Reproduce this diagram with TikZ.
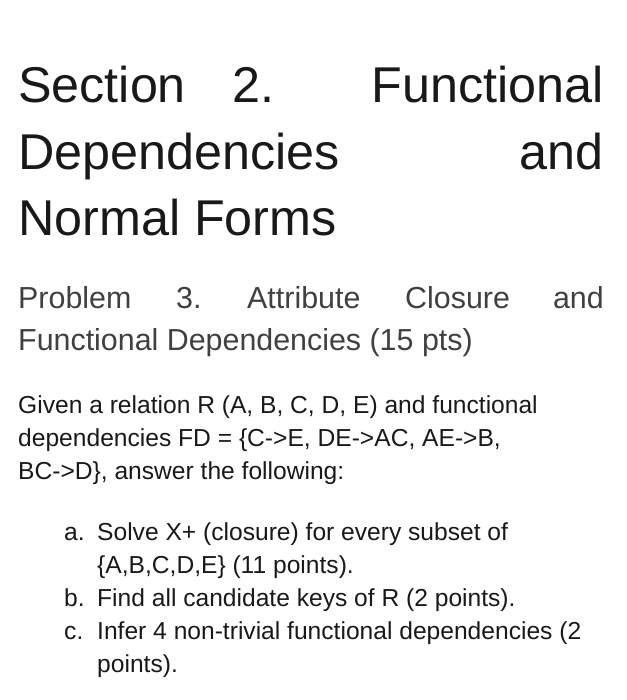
\documentclass[tikz,border=0pt]{standalone}
\usepackage{fontspec}
\setmainfont{Liberation Sans}
\begin{document}
\begin{tikzpicture}[x=1pt,y=-1pt,
  big/.style={font=\fontsize{50.3}{60}\selectfont,inner sep=0pt,text=black!90},
  mid/.style={font=\fontsize{30.4}{34}\selectfont,inner sep=0pt,text=black!75},
  body/.style={font=\fontsize{24.6}{28}\selectfont,inner sep=0pt,text=black!90}]
\useasboundingbox (0,0) rectangle (626,700);
\node[big,anchor=base west] (t1a) at (18,103) {Section};
\node[big,anchor=base west] (t1b) at (232,103) {2.};
\node[big,anchor=base east] (t1c) at (604,103) {Functional};
\node[big,anchor=base west] (t2a) at (18,170) {Dependencies};
\node[big,anchor=base east] (t2b) at (604,170) {and};
\node[big,anchor=base west] (t3a) at (18,236) {Normal Forms};
\node[mid,anchor=base west] (p1a) at (18,308) {Problem};
\node[mid,anchor=base west] (p1b) at (176,308) {3.};
\node[mid,anchor=base west] (p1c) at (247,308) {Attribute};
\node[mid,anchor=base west] (p1d) at (405,308) {Closure};
\node[mid,anchor=base east] (p1e) at (604,308) {and};
\node[mid,anchor=base west] (p2) at (18,350) {Functional Dependencies (15 pts)};
\node[body,anchor=base west] (b1) at (18,413) {Given a relation R (A, B, C, D, E) and functional};
\node[body,anchor=base west] (b2) at (18,446) {dependencies FD = \{C->E, DE->AC, AE->B,};
\node[body,anchor=base west] (b3) at (18,479) {BC->D\}, answer the following:};
\node[body,anchor=base west] (la) at (64,540) {a.};
\node[body,anchor=base west] (ia1) at (97,540) {Solve X+ (closure) for every subset of};
\node[body,anchor=base west] (ia2) at (97,573) {\{A,B,C,D,E\} (11 points).};
\node[body,anchor=base west] (lb) at (64,606) {b.};
\node[body,anchor=base west] (ib) at (97,606) {Find all candidate keys of R (2 points).};
\node[body,anchor=base west] (lc) at (64,639) {c.};
\node[body,anchor=base west] (ic1) at (97,639) {Infer 4 non-trivial functional dependencies (2};
\node[body,anchor=base west] (ic2) at (97,672) {points).};
\end{tikzpicture}
\end{document}
